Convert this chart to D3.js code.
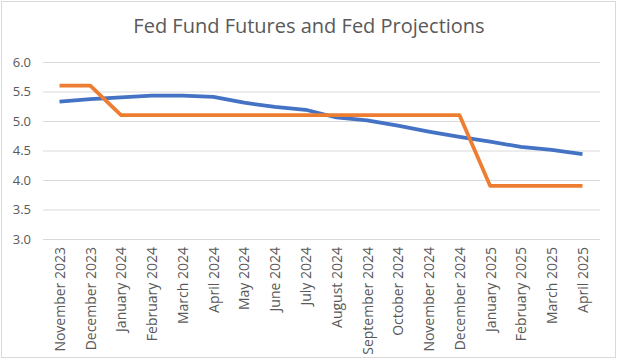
<!DOCTYPE html>
<html><head><meta charset="utf-8">
<script src="https://cdn.jsdelivr.net/npm/d3@7"></script>
<style>body{margin:0;background:#fff;} text{font-family:"Open Sans","Noto Sans",sans-serif;fill:#595959;}</style>
</head><body><svg id="c" width="619" height="360"></svg>
<script>
const categories = ["November 2023","December 2023","January 2024","February 2024","March 2024","April 2024","May 2024","June 2024","July 2024","August 2024","September 2024","October 2024","November 2024","December 2024","January 2025","February 2025","March 2025","April 2025"];
const futures = [5.33,5.37,5.40,5.43,5.43,5.41,5.31,5.24,5.19,5.06,5.01,4.92,4.82,4.73,4.65,4.56,4.51,4.44];
const projections = [5.6,5.6,5.1,5.1,5.1,5.1,5.1,5.1,5.1,5.1,5.1,5.1,5.1,5.1,3.9,3.9,3.9,3.9];
const yTicks = [3.0,3.5,4.0,4.5,5.0,5.5,6.0];
const title = "Fed Fund Futures and Fed Projections";

const svg = d3.select("#c");
svg.append("rect").attr("x",1.5).attr("y",1.5).attr("width",614).attr("height",356)
  .attr("fill","#fff").attr("stroke","#d9d9d9");

const x = d3.scalePoint().domain(categories).range([59.5,582.5]);
const y = d3.scaleLinear().domain([3,6]).range([239,62]);

svg.append("text").attr("x",309).attr("y",33).attr("text-anchor","middle")
  .style("font-size","20px").text(title);

const yAxis = svg.append("g").attr("transform","translate(43,0)")
  .call(d3.axisLeft(y).tickValues(yTicks).tickFormat(d3.format(".1f")).tickSize(-557).tickPadding(12));
yAxis.select(".domain").remove();
yAxis.selectAll("line").attr("stroke","#d9d9d9");
yAxis.selectAll("text").style("font-size","13px").attr("fill","#595959");

const xAxis = svg.append("g").attr("transform","translate(0,239)")
  .call(d3.axisBottom(x).tickSize(0).tickPadding(0));
xAxis.select(".domain").remove();
xAxis.selectAll("text").style("font-size","14px").attr("fill","#595959")
  .attr("transform","rotate(-90)").attr("text-anchor","end")
  .attr("x",-8).attr("y",0).attr("dy","0.35em");

const line = d3.line().x((d,i)=>x(categories[i])).y(d=>y(d));
svg.append("path").datum(futures).attr("d",line).attr("fill","none")
  .attr("stroke","#4472C4").attr("stroke-width",3.75).attr("stroke-linejoin","round");
svg.append("path").datum(projections).attr("d",line).attr("fill","none")
  .attr("stroke","#ED7D31").attr("stroke-width",3.75).attr("stroke-linejoin","round");
</script></body></html>
